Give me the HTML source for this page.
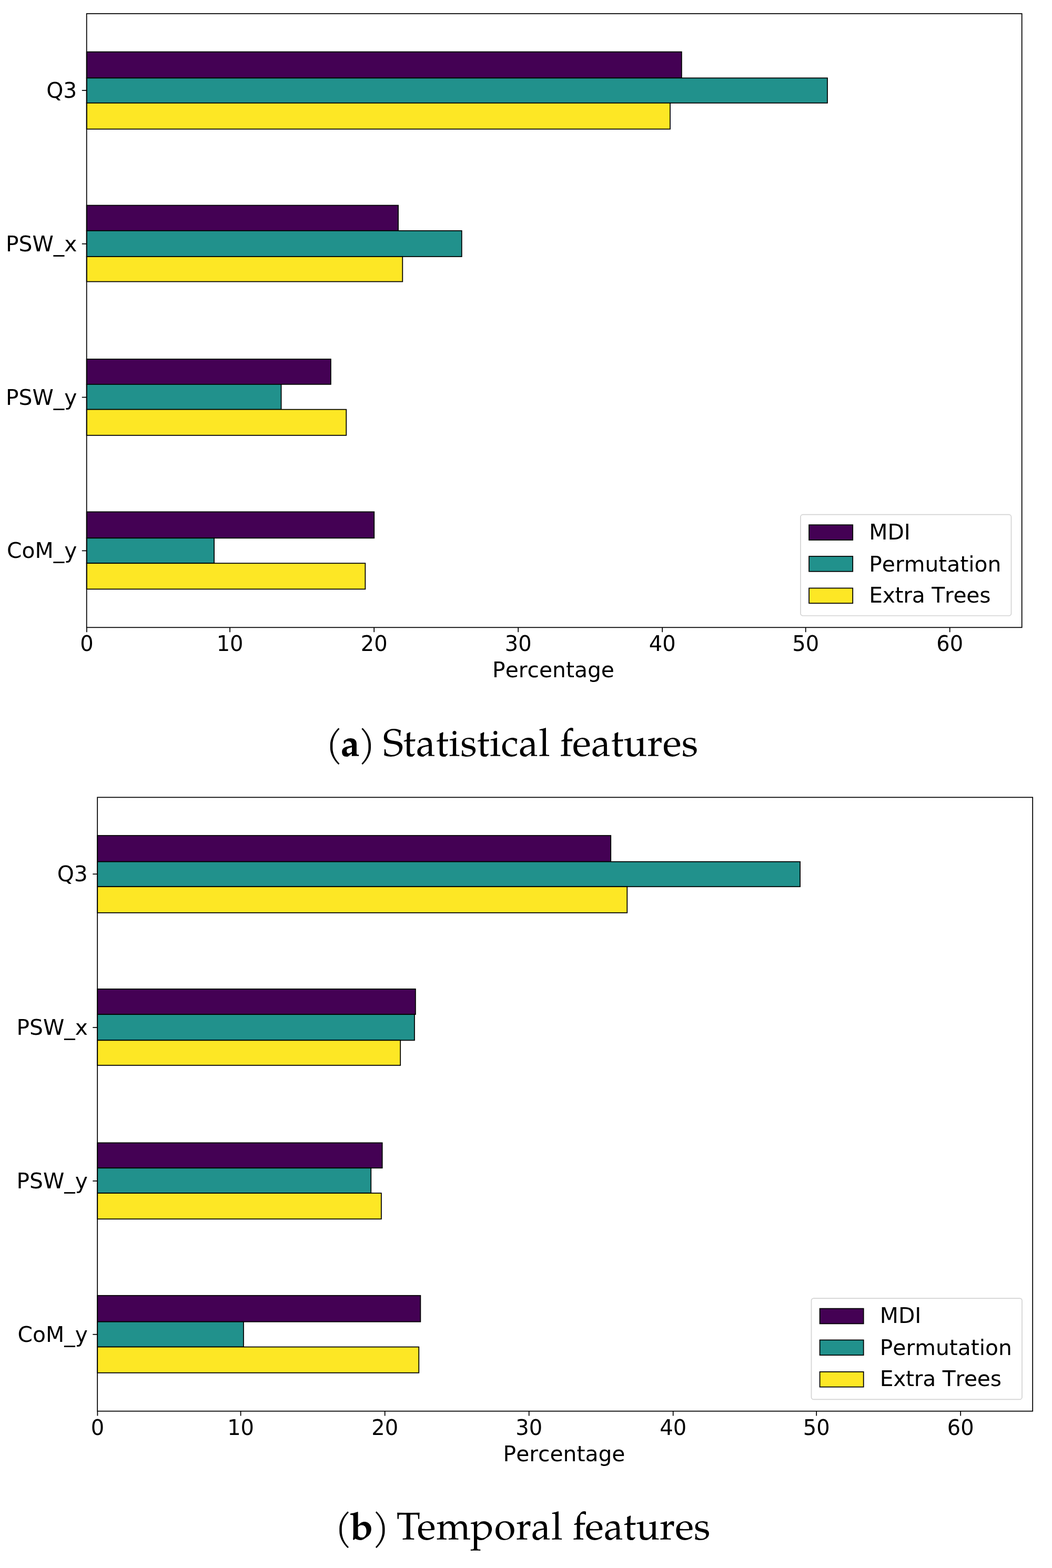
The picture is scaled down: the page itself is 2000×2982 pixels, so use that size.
<!DOCTYPE html>
<html><head><meta charset="utf-8"><title>Feature importance</title>
<style>
html,body{margin:0;padding:0;background:#fff;}
body{width:2000px;height:2982px;overflow:hidden;}
svg{display:block;}
.s{font-family:'DejaVu Sans', 'Liberation Sans', sans-serif;font-size:40.8px;fill:#000;font-kerning:none;}
.c{font-family:'TeX Gyre Pagella', 'Palatino Linotype', 'Liberation Serif', serif;font-size:74px;fill:#000;}
</style></head><body>
<svg width="2000" height="2982" viewBox="0 0 2000 2982">
<rect x="0" y="0" width="2000" height="2982" fill="#fff"/>
<rect x="164.7" y="98.6" width="1131.15" height="49.75" fill="#440154" stroke="#000" stroke-width="1.75"/>
<rect x="164.7" y="148.35" width="1408.3" height="47.5" fill="#21918c" stroke="#000" stroke-width="1.75"/>
<rect x="164.7" y="195.85" width="1109.3" height="49.65" fill="#fde725" stroke="#000" stroke-width="1.75"/>
<rect x="164.7" y="390.5" width="592.4" height="48.3" fill="#440154" stroke="#000" stroke-width="1.75"/>
<rect x="164.7" y="438.8" width="713.1" height="49.2" fill="#21918c" stroke="#000" stroke-width="1.75"/>
<rect x="164.7" y="488" width="600.6" height="47.6" fill="#fde725" stroke="#000" stroke-width="1.75"/>
<rect x="164.7" y="683" width="464.2" height="47.9" fill="#440154" stroke="#000" stroke-width="1.75"/>
<rect x="164.7" y="730.9" width="369.9" height="47.8" fill="#21918c" stroke="#000" stroke-width="1.75"/>
<rect x="164.7" y="778.7" width="493.6" height="49.2" fill="#fde725" stroke="#000" stroke-width="1.75"/>
<rect x="164.7" y="973.4" width="546.6" height="49.9" fill="#440154" stroke="#000" stroke-width="1.75"/>
<rect x="164.7" y="1023.3" width="242.4" height="47.9" fill="#21918c" stroke="#000" stroke-width="1.75"/>
<rect x="164.7" y="1071.2" width="529.7" height="49.2" fill="#fde725" stroke="#000" stroke-width="1.75"/>
<rect x="164.7" y="26" width="1778" height="1167.3" fill="none" stroke="#000" stroke-width="1.75" stroke-linejoin="miter"/>
<line x1="164.9" y1="1193.3" x2="164.9" y2="1202.2" stroke="#000" stroke-width="1.75"/>
<text x="164.9" y="1238.2" text-anchor="middle" class="s" style="font-size:40px">0</text>
<line x1="437.1" y1="1193.3" x2="437.1" y2="1202.2" stroke="#000" stroke-width="1.75"/>
<text x="437.1" y="1238.2" text-anchor="middle" class="s" style="font-size:40px">10</text>
<line x1="711.2" y1="1193.3" x2="711.2" y2="1202.2" stroke="#000" stroke-width="1.75"/>
<text x="711.2" y="1238.2" text-anchor="middle" class="s" style="font-size:40px">20</text>
<line x1="985.2" y1="1193.3" x2="985.2" y2="1202.2" stroke="#000" stroke-width="1.75"/>
<text x="985.2" y="1238.2" text-anchor="middle" class="s" style="font-size:40px">30</text>
<line x1="1259.2" y1="1193.3" x2="1259.2" y2="1202.2" stroke="#000" stroke-width="1.75"/>
<text x="1259.2" y="1238.2" text-anchor="middle" class="s" style="font-size:40px">40</text>
<line x1="1531.7" y1="1193.3" x2="1531.7" y2="1202.2" stroke="#000" stroke-width="1.75"/>
<text x="1531.7" y="1238.2" text-anchor="middle" class="s" style="font-size:40px">50</text>
<line x1="1805.7" y1="1193.3" x2="1805.7" y2="1202.2" stroke="#000" stroke-width="1.75"/>
<text x="1805.7" y="1238.2" text-anchor="middle" class="s" style="font-size:40px">60</text>
<line x1="155.8" y1="171.91" x2="164.7" y2="171.91" stroke="#000" stroke-width="1.75"/>
<text x="146.3" y="185.91" text-anchor="end" class="s">Q3</text>
<line x1="155.8" y1="463.74" x2="164.7" y2="463.74" stroke="#000" stroke-width="1.75"/>
<text x="146.3" y="477.74" text-anchor="end" class="s">PSW_x</text>
<line x1="155.8" y1="755.56" x2="164.7" y2="755.56" stroke="#000" stroke-width="1.75"/>
<text x="146.3" y="769.56" text-anchor="end" class="s">PSW_y</text>
<line x1="155.8" y1="1047.39" x2="164.7" y2="1047.39" stroke="#000" stroke-width="1.75"/>
<text x="146.3" y="1061.39" text-anchor="end" class="s">CoM_y</text>
<text x="1052" y="1288.1" text-anchor="middle" class="s">Percentage</text>
<rect x="1522" y="978.7" width="400.5" height="192.3" rx="4.5" ry="4.5" fill="#fff" fill-opacity="0.8" stroke="#d3d3d3" stroke-width="1.7"/>
<rect x="1538.1" y="998.2" width="83.1" height="28.8" fill="#440154" stroke="#000" stroke-width="1.75"/>
<text x="1652.2" y="1025.9" class="s">MDI</text>
<rect x="1538.1" y="1058" width="83.1" height="28.8" fill="#21918c" stroke="#000" stroke-width="1.75"/>
<text x="1652.2" y="1086.8" class="s">Permutation</text>
<rect x="1538.1" y="1118.5" width="83.1" height="28.8" fill="#fde725" stroke="#000" stroke-width="1.75"/>
<text x="1652.2" y="1146" class="s" textLength="231.2" lengthAdjust="spacing">Extra Trees</text>
<text x="619.1" y="1436.6" class="c" style="font-size:71px">(</text>
<text x="647.3" y="1438" class="c" style="font-size:73px;font-weight:bold">a</text>
<text x="681.4" y="1436.6" class="c" style="font-size:71px">)</text>
<text x="728.1" y="1438" class="c" textLength="317.4" lengthAdjust="spacing">Statistical</text>
<text x="1064.4" y="1438" class="c" textLength="262.7" lengthAdjust="spacing">features</text>
<rect x="185.2" y="1589" width="976" height="49.75" fill="#440154" stroke="#000" stroke-width="1.75"/>
<rect x="185.2" y="1638.75" width="1335.9" height="47.5" fill="#21918c" stroke="#000" stroke-width="1.75"/>
<rect x="185.2" y="1686.25" width="1007.1" height="49.65" fill="#fde725" stroke="#000" stroke-width="1.75"/>
<rect x="185.2" y="1880.9" width="604.7" height="48.3" fill="#440154" stroke="#000" stroke-width="1.75"/>
<rect x="185.2" y="1929.2" width="602.8" height="49.2" fill="#21918c" stroke="#000" stroke-width="1.75"/>
<rect x="185.2" y="1978.4" width="576" height="47.6" fill="#fde725" stroke="#000" stroke-width="1.75"/>
<rect x="185.2" y="2173.4" width="541.5" height="47.9" fill="#440154" stroke="#000" stroke-width="1.75"/>
<rect x="185.2" y="2221.3" width="520.1" height="47.8" fill="#21918c" stroke="#000" stroke-width="1.75"/>
<rect x="185.2" y="2269.1" width="539.7" height="49.2" fill="#fde725" stroke="#000" stroke-width="1.75"/>
<rect x="185.2" y="2463.8" width="614.2" height="49.9" fill="#440154" stroke="#000" stroke-width="1.75"/>
<rect x="185.2" y="2513.7" width="277.8" height="47.9" fill="#21918c" stroke="#000" stroke-width="1.75"/>
<rect x="185.2" y="2561.6" width="611.1" height="49.2" fill="#fde725" stroke="#000" stroke-width="1.75"/>
<rect x="185.2" y="1516.4" width="1778" height="1167.3" fill="none" stroke="#000" stroke-width="1.75" stroke-linejoin="miter"/>
<line x1="185.4" y1="2683.7" x2="185.4" y2="2692.6" stroke="#000" stroke-width="1.75"/>
<text x="185.4" y="2728.6" text-anchor="middle" class="s" style="font-size:40px">0</text>
<line x1="457.6" y1="2683.7" x2="457.6" y2="2692.6" stroke="#000" stroke-width="1.75"/>
<text x="457.6" y="2728.6" text-anchor="middle" class="s" style="font-size:40px">10</text>
<line x1="731.7" y1="2683.7" x2="731.7" y2="2692.6" stroke="#000" stroke-width="1.75"/>
<text x="731.7" y="2728.6" text-anchor="middle" class="s" style="font-size:40px">20</text>
<line x1="1005.7" y1="2683.7" x2="1005.7" y2="2692.6" stroke="#000" stroke-width="1.75"/>
<text x="1005.7" y="2728.6" text-anchor="middle" class="s" style="font-size:40px">30</text>
<line x1="1279.7" y1="2683.7" x2="1279.7" y2="2692.6" stroke="#000" stroke-width="1.75"/>
<text x="1279.7" y="2728.6" text-anchor="middle" class="s" style="font-size:40px">40</text>
<line x1="1552.2" y1="2683.7" x2="1552.2" y2="2692.6" stroke="#000" stroke-width="1.75"/>
<text x="1552.2" y="2728.6" text-anchor="middle" class="s" style="font-size:40px">50</text>
<line x1="1826.2" y1="2683.7" x2="1826.2" y2="2692.6" stroke="#000" stroke-width="1.75"/>
<text x="1826.2" y="2728.6" text-anchor="middle" class="s" style="font-size:40px">60</text>
<line x1="176.3" y1="1662.31" x2="185.2" y2="1662.31" stroke="#000" stroke-width="1.75"/>
<text x="166.8" y="1676.31" text-anchor="end" class="s">Q3</text>
<line x1="176.3" y1="1954.14" x2="185.2" y2="1954.14" stroke="#000" stroke-width="1.75"/>
<text x="166.8" y="1968.14" text-anchor="end" class="s">PSW_x</text>
<line x1="176.3" y1="2245.96" x2="185.2" y2="2245.96" stroke="#000" stroke-width="1.75"/>
<text x="166.8" y="2259.96" text-anchor="end" class="s">PSW_y</text>
<line x1="176.3" y1="2537.79" x2="185.2" y2="2537.79" stroke="#000" stroke-width="1.75"/>
<text x="166.8" y="2551.79" text-anchor="end" class="s">CoM_y</text>
<text x="1072.5" y="2778.5" text-anchor="middle" class="s">Percentage</text>
<rect x="1542.5" y="2469.1" width="400.5" height="192.3" rx="4.5" ry="4.5" fill="#fff" fill-opacity="0.8" stroke="#d3d3d3" stroke-width="1.7"/>
<rect x="1558.6" y="2488.6" width="83.1" height="28.8" fill="#440154" stroke="#000" stroke-width="1.75"/>
<text x="1672.7" y="2516.3" class="s">MDI</text>
<rect x="1558.6" y="2548.4" width="83.1" height="28.8" fill="#21918c" stroke="#000" stroke-width="1.75"/>
<text x="1672.7" y="2577.2" class="s">Permutation</text>
<rect x="1558.6" y="2608.9" width="83.1" height="28.8" fill="#fde725" stroke="#000" stroke-width="1.75"/>
<text x="1672.7" y="2636.4" class="s" textLength="231.2" lengthAdjust="spacing">Extra Trees</text>
<text x="636.5" y="2926.6" class="c" style="font-size:71px">(</text>
<text x="665.2" y="2928" class="c" style="font-size:73px;font-weight:bold">b</text>
<text x="707.9" y="2926.6" class="c" style="font-size:71px">)</text>
<text x="753.8" y="2928" class="c" textLength="315.7" lengthAdjust="spacing">Temporal</text>
<text x="1088.7" y="2928" class="c" textLength="261.7" lengthAdjust="spacing">features</text>
</svg>
</body></html>
